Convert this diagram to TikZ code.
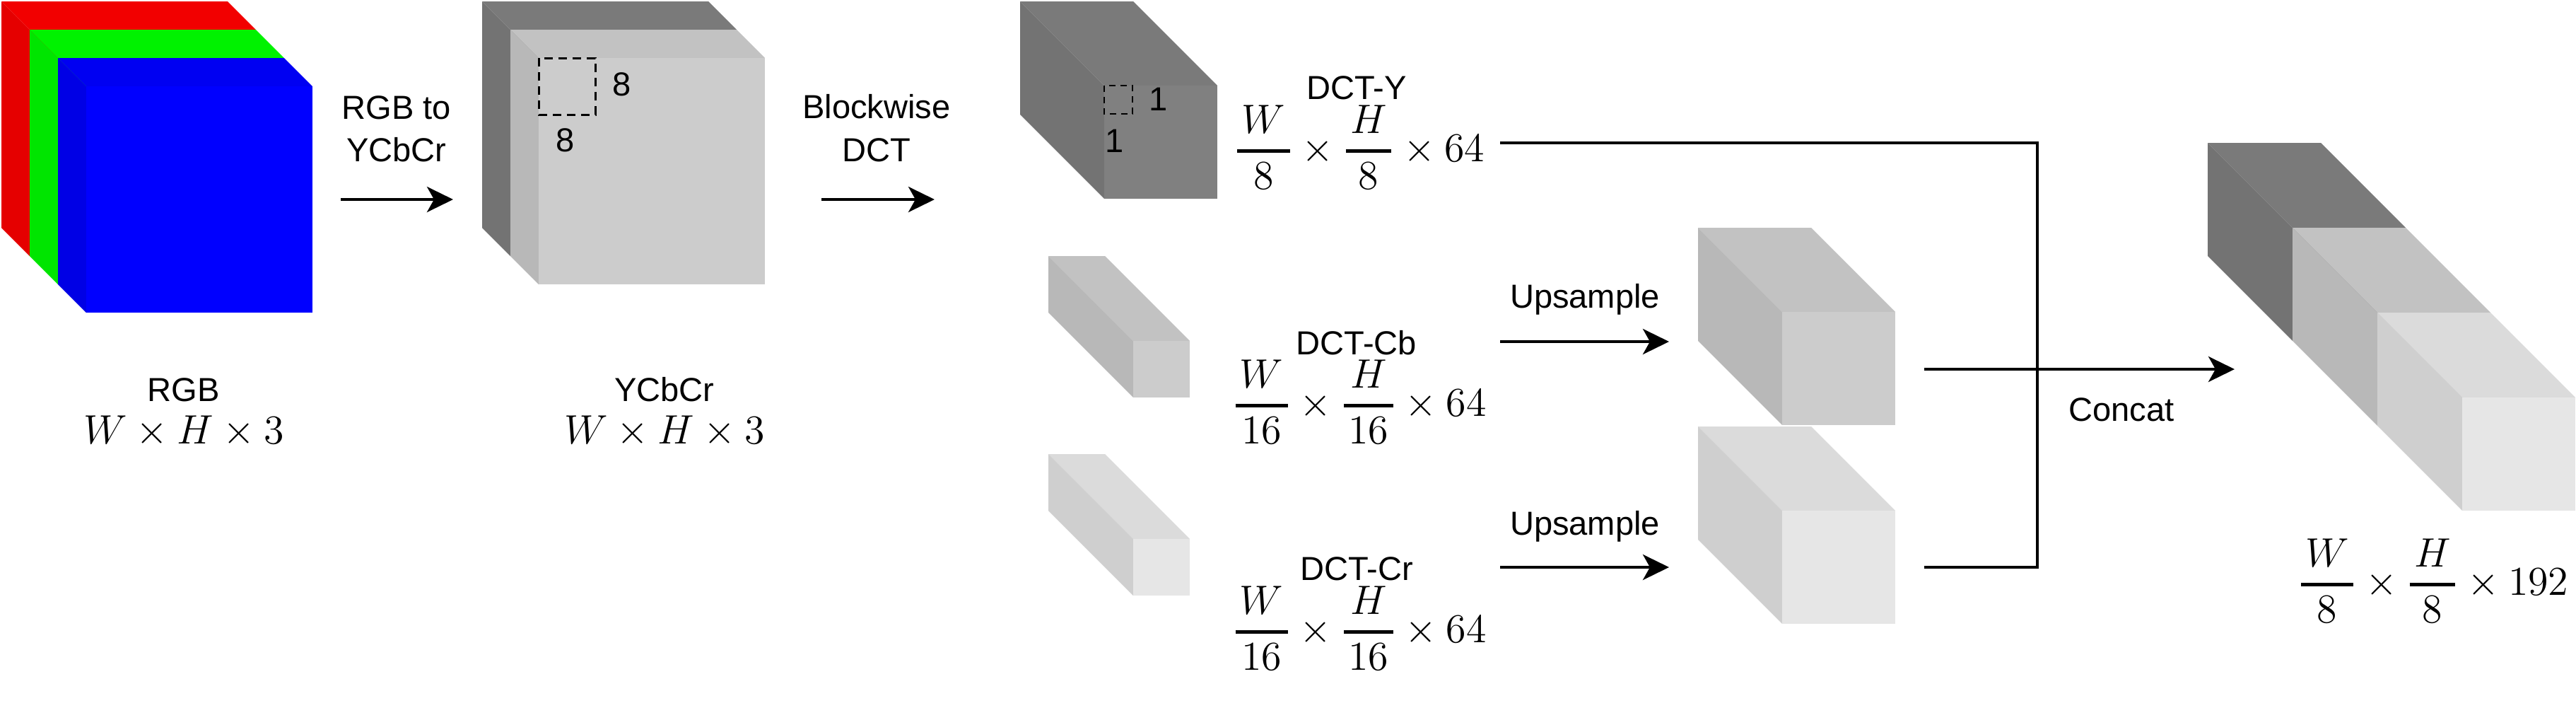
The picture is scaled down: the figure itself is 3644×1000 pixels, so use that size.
\RequirePackage{fix-cm}
\documentclass[tikz,border=0pt]{standalone}
\usepackage{amsmath}
\usepackage{fontspec}
\newfontfamily\hv{Liberation Sans}
\usetikzlibrary{arrows.meta}
\definecolor{rgbred}{HTML}{FF0000}
\definecolor{rgbgreen}{HTML}{00FF00}
\definecolor{rgbblue}{HTML}{0000FF}
\definecolor{gdark}{HTML}{808080}
\definecolor{gmid}{HTML}{CCCCCC}
\definecolor{glight}{HTML}{E6E6E6}
% fraction with a padded, slightly heavier rule (MathJax look)
\newcommand\pfrac[2]{\genfrac{}{}{1.2pt}{0}{\mkern2mu#1\mkern2mu}{\mkern2mu#2\mkern2mu}}
% #1 back x, #2 back y, #3 depth, #4 width, #5 height, #6 colour, #7 name
\newcommand\isocube[7]{%
  \fill[#6!95!black] (#1,#2) -- (#1+#4,#2) -- (#1+#4+#3,#2+#3) -- (#1+#3,#2+#3) -- cycle;
  \fill[#6!90!black] (#1,#2) -- (#1+#3,#2+#3) -- (#1+#3,#2+#3+#5) -- (#1,#2+#5) -- cycle;
  \fill[#6] (#1+#3,#2+#3) rectangle (#1+#3+#4,#2+#3+#5);
  \coordinate (#7) at (#1+#3,#2+#3);
}
\begin{document}
\begin{tikzpicture}[x=0.1mm,y=-0.1mm,
  lbl/.style={font=\hv\fontsize{13.4}{17.1}\selectfont, inner sep=0pt, anchor=base},
  mth/.style={font=\fontsize{16.5}{20}\selectfont, inner sep=0pt, anchor=base},
  conn/.style={line width=0.4mm},
  arr/.style={conn, -{Stealth[length=3.7mm,width=3.6mm,inset=1mm]}},
  dsh/.style={draw=black, line width=0.3mm, dash pattern=on 1.2mm off 0.8mm},
  dshs/.style={draw=black, line width=0.22mm, dash pattern=on 0.9mm off 0.7mm}]
\useasboundingbox (0,0) rectangle (3644,1000);

% RGB stack
\isocube{2}{2}{40}{320}{320}{rgbred}{cR}
\isocube{42}{42}{40}{320}{320}{rgbgreen}{cG}
\isocube{82}{82}{40}{320}{320}{rgbblue}{cB}
\node[lbl] (lrgb) at (260,567) {RGB};
\node[mth] (mrgb) at (260,627) {$W\times H\times 3$};

% RGB -> YCbCr
\node[lbl] (t1a) at (561,168) {RGB to};
\node[lbl] (t1b) at (561,228) {YCbCr};
\coordinate (a1s) at (482,282);
\coordinate (a1e) at (641,282);
\draw[arr] (a1s) -- (a1e);

% YCbCr
\isocube{682}{2}{40}{320}{320}{gdark}{cYd}
\isocube{722}{42}{40}{320}{320}{gmid}{cYl}
\draw[dsh] (762,82) rectangle (842,162);
\node[lbl] (e1) at (880,135) {8};
\node[lbl] (e2) at (800,214) {8};
\node[lbl] (lycc) at (940,567) {YCbCr};
\node[mth] (mycc) at (940,627) {$W\times H\times 3$};

% Blockwise DCT
\node[lbl] (t2a) at (1240,167) {Blockwise};
\node[lbl] (t2b) at (1240,228) {DCT};
\coordinate (a2s) at (1162,282);
\coordinate (a2e) at (1322,282);
\draw[arr] (a2s) -- (a2e);

% DCT-Y
\isocube{1443}{2}{119}{160}{160}{gdark}{cDY}
\draw[dshs] (1562,121) rectangle (1602,161);
\node[lbl] (o1) at (1639,156) {1};
\node[lbl] (o2) at (1577,215) {1};
\node[lbl] (ly) at (1919,140) {DCT-Y};
\node[mth] (my) at (1923,228) {$\pfrac{W}{8}\times\pfrac{H}{8}\times 64$};

% DCT-Cb, DCT-Cr
\isocube{1483}{362}{120}{80}{80}{gmid}{cDCb}
\isocube{1483}{642}{120}{80}{80}{glight}{cDCr}
\node[lbl] (lcb) at (1919,501) {DCT-Cb};
\node[mth] (mcb) at (1923,588) {$\pfrac{W}{16}\times\pfrac{H}{16}\times 64$};
\node[lbl] (lcr) at (1919,820) {DCT-Cr};
\node[mth] (mcr) at (1923,908) {$\pfrac{W}{16}\times\pfrac{H}{16}\times 64$};

% Upsample
\node[lbl] (u1) at (2242,435) {Upsample};
\node[lbl] (u2) at (2242,756) {Upsample};
\coordinate (a3s) at (2122,483);
\coordinate (a3e) at (2361,483);
\coordinate (a4s) at (2122,802);
\coordinate (a4e) at (2361,802);
\draw[arr] (a3s) -- (a3e);
\draw[arr] (a4s) -- (a4e);
\isocube{2402}{322}{119}{160}{160}{gmid}{cUCb}
\isocube{2402}{603}{119}{160}{160}{glight}{cUCr}

% Concat connectors
\coordinate (cy) at (2122,202);
\coordinate (cj) at (2882,202);
\coordinate (cjb) at (2882,802);
\coordinate (crr) at (2722,802);
\coordinate (cbs) at (2722,522);
\coordinate (cbe) at (3161,522);
\draw[conn] (cy) -- (cj) -- (cjb) -- (crr);
\draw[arr] (cbs) -- (cbe);
\node[lbl] (cc) at (3001,595) {Concat};

% Concatenated block
\isocube{3123}{202}{120}{160}{160}{gdark}{cF1}
\isocube{3243}{322}{120}{160}{160}{gmid}{cF2}
\isocube{3363}{442}{120}{160}{160}{glight}{cF3}
\node[mth] (mf) at (3442,841) {$\pfrac{W}{8}\times\pfrac{H}{8}\times 192$};
\end{tikzpicture}
\end{document}
